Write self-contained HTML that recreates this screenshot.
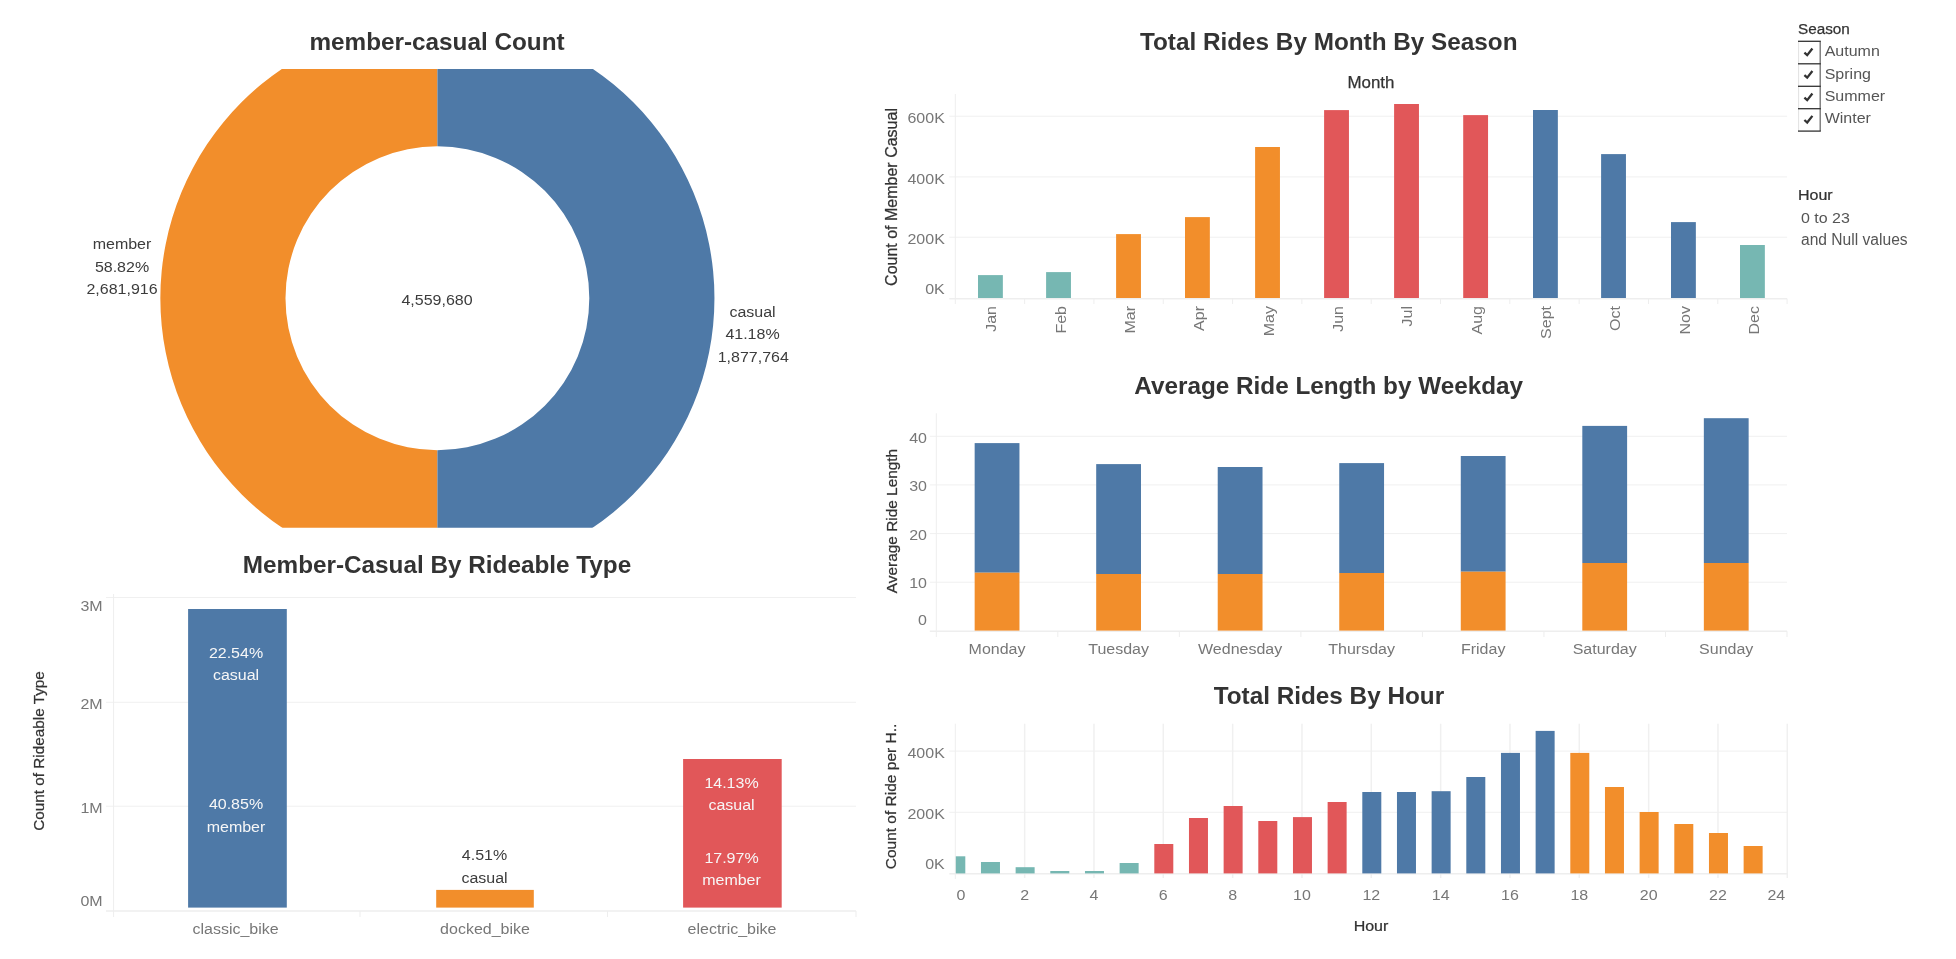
<!DOCTYPE html>
<html><head><meta charset="utf-8"><title>Dashboard</title>
<style>
html,body{margin:0;padding:0;background:#fff;}
body{width:1956px;height:959px;overflow:hidden;}
svg{display:block;font-family:"Liberation Sans", sans-serif;will-change:transform;}
</style></head>
<body>
<svg width="1956" height="959" viewBox="0 0 1956 959">
<rect width="1956" height="959" fill="#ffffff"/>
<defs><clipPath id="dc"><rect x="0" y="69" width="880" height="458.7"/></clipPath></defs>
<g clip-path="url(#dc)">
<path d="M437.4,21.19999999999999 A277.05,277.05 0 0 0 437.4,575.3 L437.4,450.15 A151.9,151.9 0 0 1 437.4,146.35 Z" fill="#f28e2b"/>
<path d="M437.4,21.19999999999999 A277.05,277.05 0 0 1 437.4,575.3 L437.4,450.15 A151.9,151.9 0 0 0 437.4,146.35 Z" fill="#4e79a7"/>
</g>
<text x="437" y="50" font-size="24.3" fill="#333333" text-anchor="middle" font-weight="bold" >member-casual Count</text>
<text transform="translate(122,249.2) scale(1.067,1)" font-size="15" fill="#3c3c3c" text-anchor="middle" font-weight="normal" >member</text>
<text transform="translate(122,272) scale(1.067,1)" font-size="15" fill="#3c3c3c" text-anchor="middle" font-weight="normal" >58.82%</text>
<text transform="translate(122,294.2) scale(1.067,1)" font-size="15" fill="#3c3c3c" text-anchor="middle" font-weight="normal" >2,681,916</text>
<text transform="translate(752.5,316.8) scale(1.067,1)" font-size="15" fill="#3c3c3c" text-anchor="middle" font-weight="normal" >casual</text>
<text transform="translate(752.5,338.75) scale(1.067,1)" font-size="15" fill="#3c3c3c" text-anchor="middle" font-weight="normal" >41.18%</text>
<text transform="translate(753.3,361.5) scale(1.067,1)" font-size="15" fill="#3c3c3c" text-anchor="middle" font-weight="normal" >1,877,764</text>
<text transform="translate(437,305) scale(1.067,1)" font-size="15" fill="#3c3c3c" text-anchor="middle" font-weight="normal" >4,559,680</text>
<text x="437" y="573" font-size="24.3" fill="#333333" text-anchor="middle" font-weight="bold" >Member-Casual By Rideable Type</text>
<rect x="106.00" y="597.00" width="750.00" height="1" fill="#f0f0f0"/>
<rect x="106.00" y="701.80" width="750.00" height="1" fill="#f0f0f0"/>
<rect x="106.00" y="805.70" width="750.00" height="1" fill="#f0f0f0"/>
<rect x="106.00" y="910.25" width="750.00" height="1.5" fill="#eeeeee"/>
<rect x="113.10" y="594.00" width="1" height="323.00" fill="#eeeeee"/>
<rect x="359.50" y="911.00" width="1" height="6.00" fill="#eeeeee"/>
<rect x="607.00" y="911.00" width="1" height="6.00" fill="#eeeeee"/>
<rect x="855.50" y="911.00" width="1" height="6.00" fill="#eeeeee"/>
<text transform="translate(102.7,611) scale(1.067,1)" font-size="15" fill="#777777" text-anchor="end" font-weight="normal" >3M</text>
<text transform="translate(102.7,709.3) scale(1.067,1)" font-size="15" fill="#777777" text-anchor="end" font-weight="normal" >2M</text>
<text transform="translate(102.7,812.8) scale(1.067,1)" font-size="15" fill="#777777" text-anchor="end" font-weight="normal" >1M</text>
<text transform="translate(102.7,905.8) scale(1.067,1)" font-size="15" fill="#777777" text-anchor="end" font-weight="normal" >0M</text>
<rect x="188.10" y="609.00" width="98.70" height="298.60" fill="#4e79a7"/>
<rect x="436.20" y="889.90" width="97.60" height="17.70" fill="#f28e2b"/>
<rect x="683.10" y="759.00" width="98.60" height="148.60" fill="#e15759"/>
<text transform="translate(236,657.8) scale(1.067,1)" font-size="15" fill="#f7f7f7" text-anchor="middle" font-weight="normal" >22.54%</text>
<text transform="translate(236,680) scale(1.067,1)" font-size="15" fill="#f7f7f7" text-anchor="middle" font-weight="normal" >casual</text>
<text transform="translate(236,808.7) scale(1.067,1)" font-size="15" fill="#f7f7f7" text-anchor="middle" font-weight="normal" >40.85%</text>
<text transform="translate(236,831.75) scale(1.067,1)" font-size="15" fill="#f7f7f7" text-anchor="middle" font-weight="normal" >member</text>
<text transform="translate(484.5,860) scale(1.067,1)" font-size="15" fill="#3c3c3c" text-anchor="middle" font-weight="normal" >4.51%</text>
<text transform="translate(484.5,883) scale(1.067,1)" font-size="15" fill="#3c3c3c" text-anchor="middle" font-weight="normal" >casual</text>
<text transform="translate(731.5,787.9) scale(1.067,1)" font-size="15" fill="#f7f7f7" text-anchor="middle" font-weight="normal" >14.13%</text>
<text transform="translate(731.5,809.8) scale(1.067,1)" font-size="15" fill="#f7f7f7" text-anchor="middle" font-weight="normal" >casual</text>
<text transform="translate(731.5,863) scale(1.067,1)" font-size="15" fill="#f7f7f7" text-anchor="middle" font-weight="normal" >17.97%</text>
<text transform="translate(731.5,884.5) scale(1.067,1)" font-size="15" fill="#f7f7f7" text-anchor="middle" font-weight="normal" >member</text>
<text transform="translate(235.6,934) scale(1.067,1)" font-size="15" fill="#777777" text-anchor="middle" font-weight="normal" >classic_bike</text>
<text transform="translate(485,934) scale(1.067,1)" font-size="15" fill="#777777" text-anchor="middle" font-weight="normal" >docked_bike</text>
<text transform="translate(732,934) scale(1.067,1)" font-size="15" fill="#777777" text-anchor="middle" font-weight="normal" >electric_bike</text>
<text transform="translate(44,751) rotate(-90)" x="0" y="0" font-size="15.3" fill="#333333" stroke="#333333" stroke-width="0.25" text-anchor="middle">Count of Rideable Type</text>
<text x="1328.75" y="50" font-size="24.3" fill="#333333" text-anchor="middle" font-weight="bold" >Total Rides By Month By Season</text>
<text x="1371" y="88" font-size="16.9" fill="#333333" text-anchor="middle" font-weight="normal" stroke="#333333" stroke-width="0.25">Month</text>
<rect x="949.30" y="115.70" width="837.80" height="1" fill="#f0f0f0"/>
<rect x="949.30" y="176.40" width="837.80" height="1" fill="#f0f0f0"/>
<rect x="949.30" y="236.70" width="837.80" height="1" fill="#f0f0f0"/>
<rect x="949.30" y="297.95" width="837.80" height="1.5" fill="#eeeeee"/>
<rect x="954.80" y="94.00" width="1" height="210.00" fill="#eeeeee"/>
<rect x="1024.12" y="298.70" width="1" height="5.30" fill="#eeeeee"/>
<rect x="1093.43" y="298.70" width="1" height="5.30" fill="#eeeeee"/>
<rect x="1162.75" y="298.70" width="1" height="5.30" fill="#eeeeee"/>
<rect x="1232.07" y="298.70" width="1" height="5.30" fill="#eeeeee"/>
<rect x="1301.38" y="298.70" width="1" height="5.30" fill="#eeeeee"/>
<rect x="1370.70" y="298.70" width="1" height="5.30" fill="#eeeeee"/>
<rect x="1440.02" y="298.70" width="1" height="5.30" fill="#eeeeee"/>
<rect x="1509.33" y="298.70" width="1" height="5.30" fill="#eeeeee"/>
<rect x="1578.65" y="298.70" width="1" height="5.30" fill="#eeeeee"/>
<rect x="1647.97" y="298.70" width="1" height="5.30" fill="#eeeeee"/>
<rect x="1717.28" y="298.70" width="1" height="5.30" fill="#eeeeee"/>
<rect x="1786.60" y="298.70" width="1" height="5.30" fill="#eeeeee"/>
<text transform="translate(944.8,123) scale(1.067,1)" font-size="15" fill="#777777" text-anchor="end" font-weight="normal" >600K</text>
<text transform="translate(944.8,183.5) scale(1.067,1)" font-size="15" fill="#777777" text-anchor="end" font-weight="normal" >400K</text>
<text transform="translate(944.8,243.5) scale(1.067,1)" font-size="15" fill="#777777" text-anchor="end" font-weight="normal" >200K</text>
<text transform="translate(944.8,293.7) scale(1.067,1)" font-size="15" fill="#777777" text-anchor="end" font-weight="normal" >0K</text>
<rect x="978.00" y="275.10" width="24.85" height="22.90" fill="#76b7b2"/>
<text transform="translate(996.46,306.00) rotate(-90) scale(1.067,1)" font-size="15" fill="#777777" text-anchor="end">Jan</text>
<rect x="1046.10" y="272.10" width="24.85" height="25.90" fill="#76b7b2"/>
<text transform="translate(1065.77,306.00) rotate(-90) scale(1.067,1)" font-size="15" fill="#777777" text-anchor="end">Feb</text>
<rect x="1116.10" y="234.10" width="24.85" height="63.90" fill="#f28e2b"/>
<text transform="translate(1135.09,306.00) rotate(-90) scale(1.067,1)" font-size="15" fill="#777777" text-anchor="end">Mar</text>
<rect x="1185.00" y="217.10" width="24.85" height="80.90" fill="#f28e2b"/>
<text transform="translate(1204.41,306.00) rotate(-90) scale(1.067,1)" font-size="15" fill="#777777" text-anchor="end">Apr</text>
<rect x="1255.10" y="147.00" width="24.85" height="151.00" fill="#f28e2b"/>
<text transform="translate(1273.72,306.00) rotate(-90) scale(1.067,1)" font-size="15" fill="#777777" text-anchor="end">May</text>
<rect x="1324.10" y="110.10" width="24.85" height="187.90" fill="#e15759"/>
<text transform="translate(1343.04,306.00) rotate(-90) scale(1.067,1)" font-size="15" fill="#777777" text-anchor="end">Jun</text>
<rect x="1394.10" y="104.00" width="24.85" height="194.00" fill="#e15759"/>
<text transform="translate(1412.36,306.00) rotate(-90) scale(1.067,1)" font-size="15" fill="#777777" text-anchor="end">Jul</text>
<rect x="1463.20" y="115.10" width="24.85" height="182.90" fill="#e15759"/>
<text transform="translate(1481.67,306.00) rotate(-90) scale(1.067,1)" font-size="15" fill="#777777" text-anchor="end">Aug</text>
<rect x="1533.00" y="110.00" width="24.85" height="188.00" fill="#4e79a7"/>
<text transform="translate(1550.99,306.00) rotate(-90) scale(1.067,1)" font-size="15" fill="#777777" text-anchor="end">Sept</text>
<rect x="1601.10" y="154.10" width="24.85" height="143.90" fill="#4e79a7"/>
<text transform="translate(1620.31,306.00) rotate(-90) scale(1.067,1)" font-size="15" fill="#777777" text-anchor="end">Oct</text>
<rect x="1671.00" y="222.10" width="24.85" height="75.90" fill="#4e79a7"/>
<text transform="translate(1689.62,306.00) rotate(-90) scale(1.067,1)" font-size="15" fill="#777777" text-anchor="end">Nov</text>
<rect x="1740.00" y="245.00" width="24.85" height="53.00" fill="#76b7b2"/>
<text transform="translate(1758.94,306.00) rotate(-90) scale(1.067,1)" font-size="15" fill="#777777" text-anchor="end">Dec</text>
<text transform="translate(896.5,197) rotate(-90)" x="0" y="0" font-size="16" fill="#333333" stroke="#333333" stroke-width="0.25" text-anchor="middle">Count of Member Casual</text>
<text x="1798" y="34.1" font-size="15.3" fill="#333333" text-anchor="start" font-weight="normal" stroke="#333333" stroke-width="0.25">Season</text>
<rect x="1798.10" y="41.30" width="1" height="89.80" fill="#e2e2e2"/>
<rect x="1819.55" y="41.30" width="1.3" height="89.80" fill="#6e6e6e"/>
<rect x="1798.00" y="40.65" width="22.80" height="1.3" fill="#333333"/>
<rect x="1798.00" y="63.15" width="22.80" height="1.3" fill="#333333"/>
<rect x="1798.00" y="85.65" width="22.80" height="1.3" fill="#333333"/>
<rect x="1798.00" y="108.05" width="22.80" height="1.3" fill="#333333"/>
<rect x="1798.00" y="130.45" width="22.80" height="1.3" fill="#333333"/>
<path d="M1804.4,52.60 L1807.2,55.10 L1812.4,48.50" fill="none" stroke="#333" stroke-width="2.3"/>
<text transform="translate(1824.7,55.8) scale(1.067,1)" font-size="15" fill="#555" text-anchor="start" font-weight="normal" >Autumn</text>
<path d="M1804.4,75.10 L1807.2,77.60 L1812.4,71.00" fill="none" stroke="#333" stroke-width="2.3"/>
<text transform="translate(1824.7,78.5) scale(1.067,1)" font-size="15" fill="#555" text-anchor="start" font-weight="normal" >Spring</text>
<path d="M1804.4,97.60 L1807.2,100.10 L1812.4,93.50" fill="none" stroke="#333" stroke-width="2.3"/>
<text transform="translate(1824.7,100.6) scale(1.067,1)" font-size="15" fill="#555" text-anchor="start" font-weight="normal" >Summer</text>
<path d="M1804.4,120.00 L1807.2,122.50 L1812.4,115.90" fill="none" stroke="#333" stroke-width="2.3"/>
<text transform="translate(1824.7,123.2) scale(1.067,1)" font-size="15" fill="#555" text-anchor="start" font-weight="normal" >Winter</text>
<text transform="translate(1798,200) scale(1.067,1)" font-size="15" fill="#333333" text-anchor="start" font-weight="normal" stroke="#333333" stroke-width="0.25">Hour</text>
<text transform="translate(1801,223) scale(1.067,1)" font-size="15" fill="#555" text-anchor="start" font-weight="normal" >0 to 23</text>
<text x="1801" y="245.1" font-size="15.6" fill="#555" text-anchor="start" font-weight="normal" >and Null values</text>
<text x="1328.7" y="394" font-size="24.3" fill="#333333" text-anchor="middle" font-weight="bold" >Average Ride Length by Weekday</text>
<rect x="929.80" y="435.80" width="857.20" height="1" fill="#f0f0f0"/>
<rect x="929.80" y="484.40" width="857.20" height="1" fill="#f0f0f0"/>
<rect x="929.80" y="533.10" width="857.20" height="1" fill="#f0f0f0"/>
<rect x="929.80" y="581.70" width="857.20" height="1" fill="#f0f0f0"/>
<rect x="929.80" y="630.45" width="857.20" height="1.5" fill="#eeeeee"/>
<rect x="935.80" y="413.30" width="1" height="223.70" fill="#eeeeee"/>
<rect x="1057.33" y="631.20" width="1" height="5.80" fill="#eeeeee"/>
<rect x="1178.86" y="631.20" width="1" height="5.80" fill="#eeeeee"/>
<rect x="1300.39" y="631.20" width="1" height="5.80" fill="#eeeeee"/>
<rect x="1421.91" y="631.20" width="1" height="5.80" fill="#eeeeee"/>
<rect x="1543.44" y="631.20" width="1" height="5.80" fill="#eeeeee"/>
<rect x="1664.97" y="631.20" width="1" height="5.80" fill="#eeeeee"/>
<rect x="1786.50" y="631.20" width="1" height="5.80" fill="#eeeeee"/>
<text transform="translate(927,442.9) scale(1.067,1)" font-size="15" fill="#777777" text-anchor="end" font-weight="normal" >40</text>
<text transform="translate(927,491) scale(1.067,1)" font-size="15" fill="#777777" text-anchor="end" font-weight="normal" >30</text>
<text transform="translate(927,539.5) scale(1.067,1)" font-size="15" fill="#777777" text-anchor="end" font-weight="normal" >20</text>
<text transform="translate(927,588.3) scale(1.067,1)" font-size="15" fill="#777777" text-anchor="end" font-weight="normal" >10</text>
<text transform="translate(927,625) scale(1.067,1)" font-size="15" fill="#777777" text-anchor="end" font-weight="normal" >0</text>
<rect x="974.66" y="443.10" width="44.80" height="129.60" fill="#4e79a7"/>
<rect x="974.66" y="572.70" width="44.80" height="57.90" fill="#f28e2b"/>
<text transform="translate(997.0642857142857,654.2) scale(1.067,1)" font-size="15" fill="#777777" text-anchor="middle" font-weight="normal" >Monday</text>
<rect x="1096.19" y="464.10" width="44.80" height="109.90" fill="#4e79a7"/>
<rect x="1096.19" y="574.00" width="44.80" height="56.60" fill="#f28e2b"/>
<text transform="translate(1118.5928571428572,654.2) scale(1.067,1)" font-size="15" fill="#777777" text-anchor="middle" font-weight="normal" >Tuesday</text>
<rect x="1217.72" y="467.00" width="44.80" height="107.00" fill="#4e79a7"/>
<rect x="1217.72" y="574.00" width="44.80" height="56.60" fill="#f28e2b"/>
<text transform="translate(1240.1214285714286,654.2) scale(1.067,1)" font-size="15" fill="#777777" text-anchor="middle" font-weight="normal" >Wednesday</text>
<rect x="1339.25" y="463.10" width="44.80" height="109.90" fill="#4e79a7"/>
<rect x="1339.25" y="573.00" width="44.80" height="57.60" fill="#f28e2b"/>
<text transform="translate(1361.65,654.2) scale(1.067,1)" font-size="15" fill="#777777" text-anchor="middle" font-weight="normal" >Thursday</text>
<rect x="1460.78" y="456.00" width="44.80" height="115.70" fill="#4e79a7"/>
<rect x="1460.78" y="571.70" width="44.80" height="58.90" fill="#f28e2b"/>
<text transform="translate(1483.1785714285716,654.2) scale(1.067,1)" font-size="15" fill="#777777" text-anchor="middle" font-weight="normal" >Friday</text>
<rect x="1582.31" y="425.90" width="44.80" height="137.10" fill="#4e79a7"/>
<rect x="1582.31" y="563.00" width="44.80" height="67.60" fill="#f28e2b"/>
<text transform="translate(1604.707142857143,654.2) scale(1.067,1)" font-size="15" fill="#777777" text-anchor="middle" font-weight="normal" >Saturday</text>
<rect x="1703.84" y="418.20" width="44.80" height="144.80" fill="#4e79a7"/>
<rect x="1703.84" y="563.00" width="44.80" height="67.60" fill="#f28e2b"/>
<text transform="translate(1726.2357142857143,654.2) scale(1.067,1)" font-size="15" fill="#777777" text-anchor="middle" font-weight="normal" >Sunday</text>
<text transform="translate(896.5,521) rotate(-90)" x="0" y="0" font-size="15.4" fill="#333333" stroke="#333333" stroke-width="0.25" text-anchor="middle">Average Ride Length</text>
<text x="1328.9" y="703.8" font-size="24.3" fill="#333333" text-anchor="middle" font-weight="bold" >Total Rides By Hour</text>
<rect x="949.30" y="750.60" width="838.00" height="1" fill="#f0f0f0"/>
<rect x="949.30" y="811.80" width="838.00" height="1" fill="#f0f0f0"/>
<rect x="1023.88" y="723.70" width="1.5" height="154.30" fill="#f0f0f0"/>
<rect x="1093.22" y="723.70" width="1.5" height="154.30" fill="#f0f0f0"/>
<rect x="1162.55" y="723.70" width="1.5" height="154.30" fill="#f0f0f0"/>
<rect x="1231.88" y="723.70" width="1.5" height="154.30" fill="#f0f0f0"/>
<rect x="1301.22" y="723.70" width="1.5" height="154.30" fill="#f0f0f0"/>
<rect x="1370.55" y="723.70" width="1.5" height="154.30" fill="#f0f0f0"/>
<rect x="1439.88" y="723.70" width="1.5" height="154.30" fill="#f0f0f0"/>
<rect x="1509.22" y="723.70" width="1.5" height="154.30" fill="#f0f0f0"/>
<rect x="1578.55" y="723.70" width="1.5" height="154.30" fill="#f0f0f0"/>
<rect x="1647.88" y="723.70" width="1.5" height="154.30" fill="#f0f0f0"/>
<rect x="1717.22" y="723.70" width="1.5" height="154.30" fill="#f0f0f0"/>
<rect x="1786.55" y="723.70" width="1.5" height="154.30" fill="#f0f0f0"/>
<rect x="949.30" y="873.05" width="838.00" height="1.5" fill="#eeeeee"/>
<rect x="954.80" y="723.70" width="1" height="155.30" fill="#eeeeee"/>
<text transform="translate(944.8,758.1) scale(1.067,1)" font-size="15" fill="#777777" text-anchor="end" font-weight="normal" >400K</text>
<text transform="translate(944.8,819.1) scale(1.067,1)" font-size="15" fill="#777777" text-anchor="end" font-weight="normal" >200K</text>
<text transform="translate(944.8,868.75) scale(1.067,1)" font-size="15" fill="#777777" text-anchor="end" font-weight="normal" >0K</text>
<defs><clipPath id="hc"><rect x="955.8" y="700" width="840" height="200"/></clipPath></defs>
<g clip-path="url(#hc)">
<rect x="946.30" y="856.30" width="19.00" height="17.10" fill="#76b7b2"/>
<rect x="980.97" y="862.00" width="19.00" height="11.40" fill="#76b7b2"/>
<rect x="1015.63" y="867.20" width="19.00" height="6.20" fill="#76b7b2"/>
<rect x="1050.30" y="871.00" width="19.00" height="2.40" fill="#76b7b2"/>
<rect x="1084.97" y="871.00" width="19.00" height="2.40" fill="#76b7b2"/>
<rect x="1119.63" y="863.00" width="19.00" height="10.40" fill="#76b7b2"/>
<rect x="1154.30" y="844.00" width="19.00" height="29.40" fill="#e15759"/>
<rect x="1188.97" y="818.00" width="19.00" height="55.40" fill="#e15759"/>
<rect x="1223.63" y="806.00" width="19.00" height="67.40" fill="#e15759"/>
<rect x="1258.30" y="821.00" width="19.00" height="52.40" fill="#e15759"/>
<rect x="1292.97" y="817.10" width="19.00" height="56.30" fill="#e15759"/>
<rect x="1327.63" y="802.00" width="19.00" height="71.40" fill="#e15759"/>
<rect x="1362.30" y="792.00" width="19.00" height="81.40" fill="#4e79a7"/>
<rect x="1396.97" y="792.00" width="19.00" height="81.40" fill="#4e79a7"/>
<rect x="1431.63" y="791.20" width="19.00" height="82.20" fill="#4e79a7"/>
<rect x="1466.30" y="777.00" width="19.00" height="96.40" fill="#4e79a7"/>
<rect x="1500.97" y="752.90" width="19.00" height="120.50" fill="#4e79a7"/>
<rect x="1535.63" y="730.90" width="19.00" height="142.50" fill="#4e79a7"/>
<rect x="1570.30" y="752.90" width="19.00" height="120.50" fill="#f28e2b"/>
<rect x="1604.97" y="787.00" width="19.00" height="86.40" fill="#f28e2b"/>
<rect x="1639.63" y="812.00" width="19.00" height="61.40" fill="#f28e2b"/>
<rect x="1674.30" y="824.00" width="19.00" height="49.40" fill="#f28e2b"/>
<rect x="1708.97" y="833.00" width="19.00" height="40.40" fill="#f28e2b"/>
<rect x="1743.63" y="846.00" width="19.00" height="27.40" fill="#f28e2b"/>
</g>
<text transform="translate(961,900) scale(1.067,1)" font-size="15" fill="#777777" text-anchor="middle" font-weight="normal" >0</text>
<text transform="translate(1024.6333333333332,900) scale(1.067,1)" font-size="15" fill="#777777" text-anchor="middle" font-weight="normal" >2</text>
<text transform="translate(1093.9666666666667,900) scale(1.067,1)" font-size="15" fill="#777777" text-anchor="middle" font-weight="normal" >4</text>
<text transform="translate(1163.3,900) scale(1.067,1)" font-size="15" fill="#777777" text-anchor="middle" font-weight="normal" >6</text>
<text transform="translate(1232.6333333333332,900) scale(1.067,1)" font-size="15" fill="#777777" text-anchor="middle" font-weight="normal" >8</text>
<text transform="translate(1301.9666666666667,900) scale(1.067,1)" font-size="15" fill="#777777" text-anchor="middle" font-weight="normal" >10</text>
<text transform="translate(1371.3,900) scale(1.067,1)" font-size="15" fill="#777777" text-anchor="middle" font-weight="normal" >12</text>
<text transform="translate(1440.6333333333332,900) scale(1.067,1)" font-size="15" fill="#777777" text-anchor="middle" font-weight="normal" >14</text>
<text transform="translate(1509.9666666666667,900) scale(1.067,1)" font-size="15" fill="#777777" text-anchor="middle" font-weight="normal" >16</text>
<text transform="translate(1579.3,900) scale(1.067,1)" font-size="15" fill="#777777" text-anchor="middle" font-weight="normal" >18</text>
<text transform="translate(1648.6333333333332,900) scale(1.067,1)" font-size="15" fill="#777777" text-anchor="middle" font-weight="normal" >20</text>
<text transform="translate(1717.9666666666667,900) scale(1.067,1)" font-size="15" fill="#777777" text-anchor="middle" font-weight="normal" >22</text>
<text transform="translate(1785.2,900) scale(1.067,1)" font-size="15" fill="#777777" text-anchor="end" font-weight="normal" >24</text>
<text transform="translate(1371,930.7) scale(1.067,1)" font-size="15" fill="#333333" text-anchor="middle" font-weight="normal" stroke="#333333" stroke-width="0.25">Hour</text>
<text transform="translate(895.8,796.5) rotate(-90)" x="0" y="0" font-size="15.5" fill="#333333" stroke="#333333" stroke-width="0.25" text-anchor="middle">Count of Ride per H..</text>
</svg>
</body></html>
